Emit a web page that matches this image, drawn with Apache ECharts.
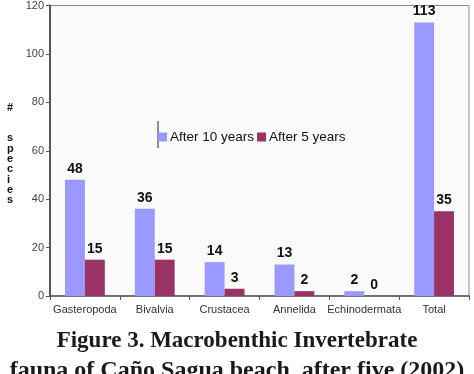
<!DOCTYPE html>
<html><head><meta charset="utf-8">
<script src="https://cdn.jsdelivr.net/npm/echarts@6/dist/echarts.min.js"></script>
<style>html,body{margin:0;padding:0;background:#fff}#c{width:474px;height:374px}</style>
</head><body><div id="c"></div>
<script>
const categories = ['Gasteropoda','Bivalvia','Crustacea','Annelida','Echinodermata','Total'];
const after10 = [48, 36, 14, 13, 2, 113];
const after5 = [15, 15, 3, 2, 0, 35];
const seriesNames = ['After 10 years', 'After 5 years'];
const yTicks = {min: 0, max: 120, interval: 20};
const caption = ['Figure 3. Macrobenthic Invertebrate', 'fauna of Caño Sagua beach, after five (2002)'];
const yTitle = '#\n\n\ns\np\ne\nc\ni\ne\ns';

const chart = echarts.init(document.getElementById('c'), null, {renderer: 'canvas'});
const labelStyle = {show: true, position: 'top', color: '#111', fontWeight: 'bold', fontSize: 14, fontFamily: 'Liberation Sans, Arial', distance: 4};
chart.setOption({
  animation: false,
  grid: {left: 50, right: 5, top: 5, bottom: 78, show: true, backgroundColor: '#fafafa', borderColor: '#8a8a8a', borderWidth: 1},
  legend: {
    left: 153, top: 125, itemGap: 3, itemWidth: 9, itemHeight: 9, icon: 'rect',
    textStyle: {fontSize: 13.5, color: '#111', fontFamily: 'Liberation Sans, Arial', padding: [0,0,0,-2]},
    data: seriesNames
  },
  xAxis: {
    type: 'category', data: categories,
    axisLine: {lineStyle: {color: '#555', width: 1.5}},
    axisTick: {show: true, length: 4, lineStyle: {color: '#555'}},
    axisLabel: {interval: 0, fontSize: 11, color: '#333', fontFamily: 'Liberation Sans, Arial', margin: 8}
  },
  yAxis: {
    type: 'value', min: yTicks.min, max: yTicks.max, interval: yTicks.interval,
    axisLine: {show: true, lineStyle: {color: '#555', width: 2}},
    axisTick: {show: true, length: 4, lineStyle: {color: '#555'}},
    splitLine: {show: false},
    axisLabel: {fontSize: 11, color: '#444', fontFamily: 'Liberation Sans, Arial', margin: 6}
  },
  series: [
    {name: seriesNames[0], type: 'bar', data: after10, barGap: '0%', barCategoryGap: '43%', itemStyle: {color: '#9999ff'}, label: labelStyle},
    {name: seriesNames[1], type: 'bar', data: after5, itemStyle: {color: '#993366'}, label: labelStyle}
  ],
  graphic: [
    {type: 'text', left: 7, top: 102, style: {text: yTitle, fontSize: 11, fontWeight: 'bold', lineHeight: 10.3, fill: '#111', fontFamily: 'Liberation Sans, Arial', align: 'center'}},
    {type: 'line', shape: {x1: 158, y1: 121, x2: 158, y2: 148}, style: {stroke: '#222', lineWidth: 1}},
    {type: 'text', left: 'center', top: 330, style: {text: caption[0], fontSize: 23, fontWeight: 'bold', fill: '#1a1a1a', fontFamily: 'Liberation Serif, serif'}},
    {type: 'text', left: 'center', top: 359, style: {text: caption[1], fontSize: 24, fontWeight: 'bold', fill: '#1a1a1a', fontFamily: 'Liberation Serif, serif'}}
  ]
});
</script></body></html>
